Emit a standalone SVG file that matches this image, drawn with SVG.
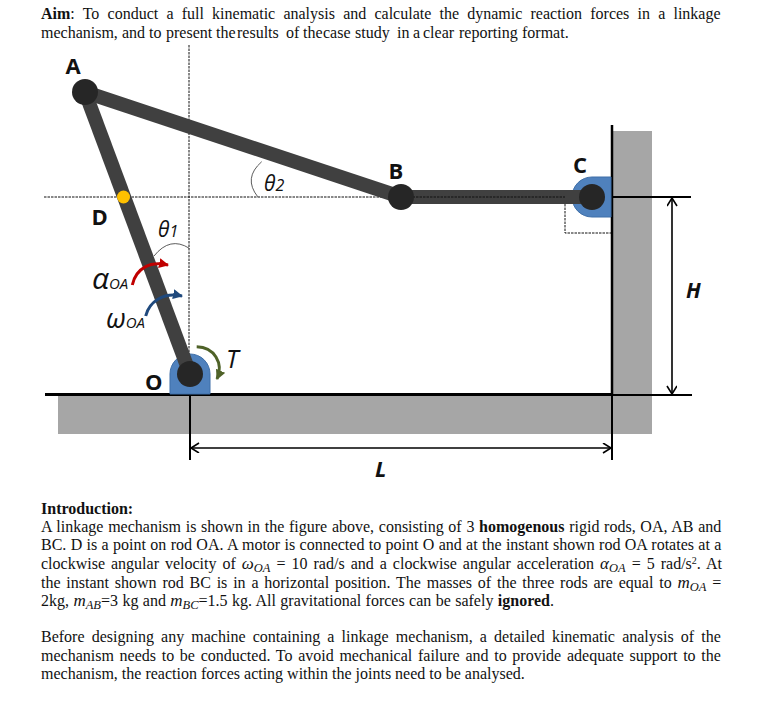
<svg xmlns="http://www.w3.org/2000/svg" width="759" height="702" viewBox="0 0 759 702">
<style>
.t{font-family:"Liberation Serif","Times New Roman",serif;font-size:16px;fill:#111}
.b{font-weight:bold}
.m{font-style:italic;font-size:17px}
.s{font-style:italic;font-size:12.500px}
.lab{font-family:"Open Sans","Liberation Sans",sans-serif;font-weight:bold;font-size:22px;fill:#111}
.sym{font-family:"Open Sans","Liberation Sans",sans-serif;font-style:italic;fill:#111}
.rod{stroke:#404040;stroke-width:14;fill:none}
.pin{fill:#262626}
.bracket{fill:#4f81bd;stroke:#3f6fa8;stroke-width:1}
.dash{stroke:#111;stroke-width:1;stroke-dasharray:2.5 1;fill:none}
.solid{stroke:#000;fill:none}
.dim{stroke:#000;stroke-width:1.6;fill:none}
.arc{stroke:#333;stroke-width:.8;fill:none}
</style>
<defs>
<marker id="open" markerWidth="12" markerHeight="12" refX="9" refY="5" orient="auto-start-reverse" markerUnits="userSpaceOnUse"><path d="M1 0L9 5L1 10" fill="none" stroke="#000" stroke-width="1.6"/></marker>
<marker id="red" markerWidth="12" markerHeight="12" refX="9" refY="5" orient="auto" markerUnits="userSpaceOnUse"><path d="M0 0L10 5L0 10z" fill="#c00000"/></marker>
<marker id="blue" markerWidth="12" markerHeight="12" refX="9" refY="5" orient="auto" markerUnits="userSpaceOnUse"><path d="M0 0L10 5L0 10z" fill="#1f497d"/></marker>
<marker id="green" markerWidth="12" markerHeight="12" refX="9" refY="5" orient="auto" markerUnits="userSpaceOnUse"><path d="M0 0L10 5L0 10z" fill="#4f6228"/></marker>
</defs>

<g id="aim-text">
<text class="t" x="41" y="19" word-spacing="4.200"><tspan class="b">Aim</tspan>: To conduct a full kinematic analysis and calculate the dynamic reaction forces in a linkage</text>
<text class="t" y="38"><tspan x="41">mechanism, </tspan><tspan x="122">and </tspan><tspan x="149">to </tspan><tspan x="166">present </tspan><tspan x="216">the </tspan><tspan x="237">results </tspan><tspan x="286">of </tspan><tspan x="303">the </tspan><tspan x="323">case </tspan><tspan x="355">study </tspan><tspan x="397">in </tspan><tspan x="413">a </tspan><tspan x="423">clear </tspan><tspan x="459">reporting </tspan><tspan x="522">format.</tspan></text>
</g>

<g id="supports">
<rect x="613" y="131" width="39" height="303" fill="#a6a6a6"/>
<rect x="58" y="395" width="594" height="39" fill="#a6a6a6"/>
</g>

<g id="connectors">
<path class="dash" d="M189 45V395"/>
<path class="dash" d="M44 197H592"/>
<path class="dash" d="M565 197V233H611"/>
<path class="solid" stroke-width="3" d="M45 394.500H612"/>
<path class="solid" stroke-width="2.500" d="M612 125V395"/>
<path class="solid" stroke-width="2" d="M600 197H691M612 395H692M612 395V460M190 395V460"/>
<path class="dim" marker-start="url(#open)" marker-end="url(#open)" d="M672 198V394"/>
<path class="dim" marker-start="url(#open)" marker-end="url(#open)" d="M191 448H611"/>
<path class="arc" d="M261.700 161.700Q243 178 257.700 196.700"/>
<path class="arc" d="M154 256Q170 236 189.300 248.300"/>
</g>

<g id="bracket-O"><path class="bracket" d="M170 394V374A20 20 0 0 1 210 374V394Z"/></g>
<g id="bracket-C"><path class="bracket" d="M611 177H592A20 20 0 0 0 592 217H611Z"/></g>
<g id="rod-OA"><path class="rod" d="M190 374L85 92"/></g>
<g id="rod-AB"><path class="rod" d="M85 92L401 197"/></g>
<g id="rod-BC"><path class="rod" d="M401 197H592"/></g>
<path class="dash" d="M395 197H565"/>

<g id="node-A"><circle class="pin" cx="85" cy="92" r="13"/><text class="lab" x="65.500" y="74">A</text></g>
<g id="node-B"><circle class="pin" cx="401" cy="197" r="13"/><text class="lab" x="388.500" y="179">B</text></g>
<g id="node-C"><circle class="pin" cx="592" cy="197" r="13"/><text class="lab" x="573" y="173">C</text></g>
<g id="node-O"><circle class="pin" cx="190" cy="374" r="13"/><text class="lab" x="145" y="390">O</text></g>
<g id="node-D"><circle cx="123.500" cy="197" r="6.500" fill="#ffc000"/><text class="lab" x="91.500" y="225">D</text></g>

<g id="motion">
<path d="M132.300 285C136 268 150 261 168 265" fill="none" stroke="#c00000" stroke-width="3" marker-end="url(#red)"/>
<path d="M145.700 316C149 302 163 292 182 296" fill="none" stroke="#1f497d" stroke-width="3" marker-end="url(#blue)"/>
<path d="M196.700 346.700C214 347 224 363 217 379" fill="none" stroke="#4f6228" stroke-width="3" marker-end="url(#green)"/>
</g>

<g id="symbols">
<text class="sym" x="264" y="191" font-size="21">θ<tspan font-size="16">2</tspan></text>
<text class="sym" x="158" y="237" font-size="21">θ<tspan font-size="16">1</tspan></text>
<text class="sym" x="92" y="289" font-size="30">α<tspan font-size="15">OA</tspan></text>
<text class="sym" x="106" y="328" font-size="27">ω<tspan font-size="15">OA</tspan></text>
<text class="sym" x="226" y="368" font-size="25">T</text>
<text class="sym" x="686" y="298" font-size="21" font-weight="bold">H</text>
<text class="sym" x="375" y="477" font-size="22" font-weight="bold">L</text>
</g>

<g id="intro-text">
<text class="t b" x="41" y="514">Introduction:</text>
<text class="t" x="41" y="532" word-spacing=".7">A linkage mechanism is shown in the figure above, consisting of 3 <tspan class="b">homogenous</tspan> rigid rods, OA, AB and</text>
<text class="t" x="41" y="550" word-spacing=".35">BC. D is a point on rod OA. A motor is connected to point O and at the instant shown rod OA rotates at a</text>
<text class="t" x="41" y="569" word-spacing="2">clockwise angular velocity of <tspan class="m">ω</tspan><tspan class="s" dy="3">OA</tspan><tspan dy="-3"> = 10 rad/s and a clockwise angular acceleration </tspan><tspan class="m">α</tspan><tspan class="s" dy="3">OA</tspan><tspan dy="-3"> = 5 rad/s</tspan><tspan font-size="10" dy="-5">2</tspan><tspan dy="5">. At</tspan></text>
<text class="t" x="41" y="588" word-spacing="1.800">the instant shown rod BC is in a horizontal position. The masses of the three rods are equal to <tspan class="m">m</tspan><tspan class="s" dy="3">OA</tspan><tspan dy="-3"> =</tspan></text>
<text class="t" x="41" y="606" word-spacing=".4">2kg, <tspan class="m">m</tspan><tspan class="s" dy="3">AB</tspan><tspan dy="-3">=3 kg and </tspan><tspan class="m">m</tspan><tspan class="s" dy="3">BC</tspan><tspan dy="-3">=1.5 kg. All gravitational forces can be safely </tspan><tspan class="b">ignored</tspan>.</text>
<text class="t" x="41" y="642" word-spacing="3.150">Before designing any machine containing a linkage mechanism, a detailed kinematic analysis of the</text>
<text class="t" x="41" y="661" word-spacing="1.700">mechanism needs to be conducted. To avoid mechanical failure and to provide adequate support to the</text>
<text class="t" x="41" y="679">mechanism, the reaction forces acting within the joints need to be analysed.</text>
</g>
</svg>
